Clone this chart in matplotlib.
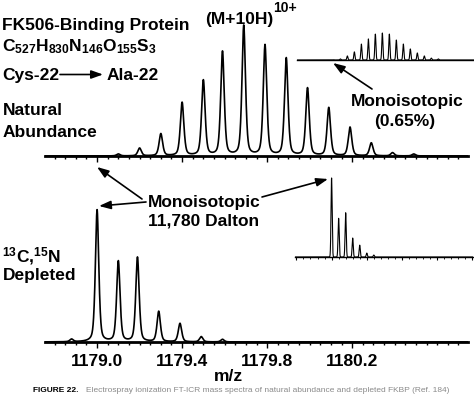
import numpy as np
import matplotlib
matplotlib.use('Agg')
import matplotlib.pyplot as plt
from matplotlib.patches import FancyArrowPatch
from matplotlib.ticker import MultipleLocator

plt.rcParams['font.family'] = ['Liberation Sans', 'DejaVu Sans']
plt.rcParams['font.weight'] = 'bold'
plt.rcParams['mathtext.fontset'] = 'custom'
for k in ('rm', 'it', 'bf', 'sf'):
    plt.rcParams['mathtext.' + k] = 'Liberation Sans:bold'
plt.rcParams['mathtext.default'] = 'bf'

# natural abundance, (M+10H)10+ isotope cluster (relative intensity)
nat_mz = [1179.10, 1179.20, 1179.30, 1179.40, 1179.50, 1179.59, 1179.69, 1179.79,
          1179.89, 1179.99, 1180.09, 1180.19, 1180.29, 1180.39, 1180.49]
nat_int = [1.5, 6, 17, 41, 58, 80, 100, 85, 75, 52, 37, 22, 10, 2.5, 1.5]

# 13C,15N depleted
dep_mz = [1178.88, 1179.00, 1179.10, 1179.19, 1179.29, 1179.39, 1179.49, 1179.59]
dep_int = [2, 100, 61, 64, 23, 14, 4, 2]

# insets: calculated isotope distributions
theo_nat_mz = [1179.0, 1179.1, 1179.2, 1179.3, 1179.4, 1179.5, 1179.6, 1179.7,
               1179.8, 1179.9, 1180.0, 1180.1, 1180.2, 1180.3, 1180.4, 1180.5]
theo_nat_int = [0.65, 4, 15, 30, 59, 78, 96, 100, 96, 74, 59, 41, 26, 15, 7, 4]
theo_dep_mz = [1179.0, 1179.1, 1179.2, 1179.3, 1179.4, 1179.5, 1179.6]
theo_dep_int = [100, 49, 56, 24, 15, 5, 2.5]

mz_labels = [1179.0, 1179.4, 1179.8, 1180.2]
mz_range = (1178.755, 1180.745)
inset_range = (1178.48, 1181.01)

W, H = 474, 395
fig = plt.figure(figsize=(W / 100, H / 100), dpi=100)


def px_axes(left, right, base, top):
    ax = fig.add_axes([left / W, 1 - base / H, (right - left) / W, (base - top) / H])
    ax.patch.set_visible(False)
    for s in ('top', 'left', 'right'):
        ax.spines[s].set_visible(False)
    ax.spines['bottom'].set_linewidth(2.0)
    ax.set_yticks([])
    return ax


def profile(x, centers, heights, width, lorentz=0.5):
    # pseudo-Voigt peak shape
    y = np.zeros_like(x)
    for c, h in zip(centers, heights):
        lor = width ** 2 / ((x - c) ** 2 + width ** 2)
        gau = np.exp(-0.5 * ((x - c) / width) ** 2)
        y += h * (lorentz * lor + (1 - lorentz) * gau)
    return y


x = np.linspace(mz_range[0], mz_range[1], 6000)
xi = np.linspace(inset_range[0], inset_range[1], 6000)

# top: natural abundance
ax1 = px_axes(45, 468, 156, 6)
ax1.plot(x, profile(x, nat_mz, nat_int, 0.0088), color='k', lw=1.2)
ax1.set_xlim(mz_range)
ax1.set_ylim(0, 100 * 150 / 130)
ax1.set_xticks(mz_labels)
ax1.xaxis.set_minor_locator(MultipleLocator(0.05))
ax1.tick_params(axis='x', which='major', length=4, width=1, labelbottom=False)
ax1.tick_params(axis='x', which='minor', length=2.5, width=1)

# bottom: depleted
ax2 = px_axes(45, 468, 342, 192)
ax2.plot(x, profile(x, dep_mz, dep_int, 0.0085), color='k', lw=1.2)
ax2.set_xlim(mz_range)
ax2.set_ylim(0, 100 * 150 / 132)
ax2.set_xticks(mz_labels)
ax2.set_xticklabels([f'{v:.1f}' for v in mz_labels], fontsize=12.5, fontweight='bold')
ax2.xaxis.set_minor_locator(MultipleLocator(0.05))
ax2.tick_params(axis='x', which='major', length=4, width=1, pad=5)
ax2.tick_params(axis='x', which='minor', length=2.5, width=1)

# inset, natural abundance (calculated)
ax3 = px_axes(297, 474, 60, 20)
ax3.plot(xi, profile(xi, theo_nat_mz, theo_nat_int, 0.008, lorentz=0), color='k', lw=0.8)
ax3.set_xlim(inset_range)
ax3.set_ylim(0, 100 * 40 / 27)
ax3.spines['bottom'].set_linewidth(1.0)
ax3.set_xticks([])

# inset, depleted (calculated)
ax4 = px_axes(295, 473, 257, 172)
ax4.plot(xi, profile(xi, theo_dep_mz, theo_dep_int, 0.008, lorentz=0), color='k', lw=0.8)
ax4.set_xlim(inset_range)
ax4.set_ylim(0, 100 * 85 / 79)
ax4.spines['bottom'].set_linewidth(1.0)
ax4.xaxis.set_major_locator(MultipleLocator(0.5))
ax4.xaxis.set_minor_locator(MultipleLocator(0.1))
ax4.tick_params(axis='x', which='major', length=2.5, width=0.8, labelbottom=False)
ax4.tick_params(axis='x', which='minor', length=1.5, width=0.6)


def label(xp, yp, s, size=12.5, **kw):
    kw.setdefault('va', 'top')
    return fig.text(xp / W, 1 - yp / H, s, fontsize=size, fontweight='bold', **kw)


def arrow(x0, y0, x1, y1):
    fig.add_artist(FancyArrowPatch((x0 / W, 1 - y0 / H), (x1 / W, 1 - y1 / H),
                                   transform=fig.transFigure,
                                   arrowstyle='-|>,head_length=0.7,head_width=0.25',
                                   mutation_scale=10, lw=1.2, color='k',
                                   shrinkA=0, shrinkB=0))


label(2, 18, 'FK506-Binding Protein')
label(2, 37, r'$C_{527}H_{830}N_{146}O_{155}S_{3}$')
label(2, 68, 'Cys-22')
arrow(60, 74.5, 103, 74.5)
label(107, 68, 'Ala-22')
label(3, 103, 'Natural')
label(3, 125, 'Abundance')
label(205, 12, '(M+10H)')
label(273, 1, '10+', size=10)

label(407, 94, 'Monoisotopic', ha='center')
label(405, 114, '(0.65%)', ha='center')
arrow(372, 89, 333, 63)

label(148, 195, 'Monoisotopic')
label(148, 213, '11,780 Dalton')
arrow(142, 199, 97, 167)
arrow(146, 202, 99, 206)
arrow(262, 197, 328, 179)

label(2, 245, r'$^{13}C{,}^{15}N$')
label(3, 268, 'Depleted')
label(228, 369, 'm/z', ha='center')

label(33, 387, 'FIGURE 22.', size=6)
fig.text(86 / W, 1 - 387 / H,
         'Electrospray ionization FT-ICR mass spectra of natural abundance and depleted FKBP (Ref. 184)',
         fontsize=6, fontweight='normal', color='#8a8a8a', va='top')

fig.savefig('out.png', dpi=100, facecolor='white')
